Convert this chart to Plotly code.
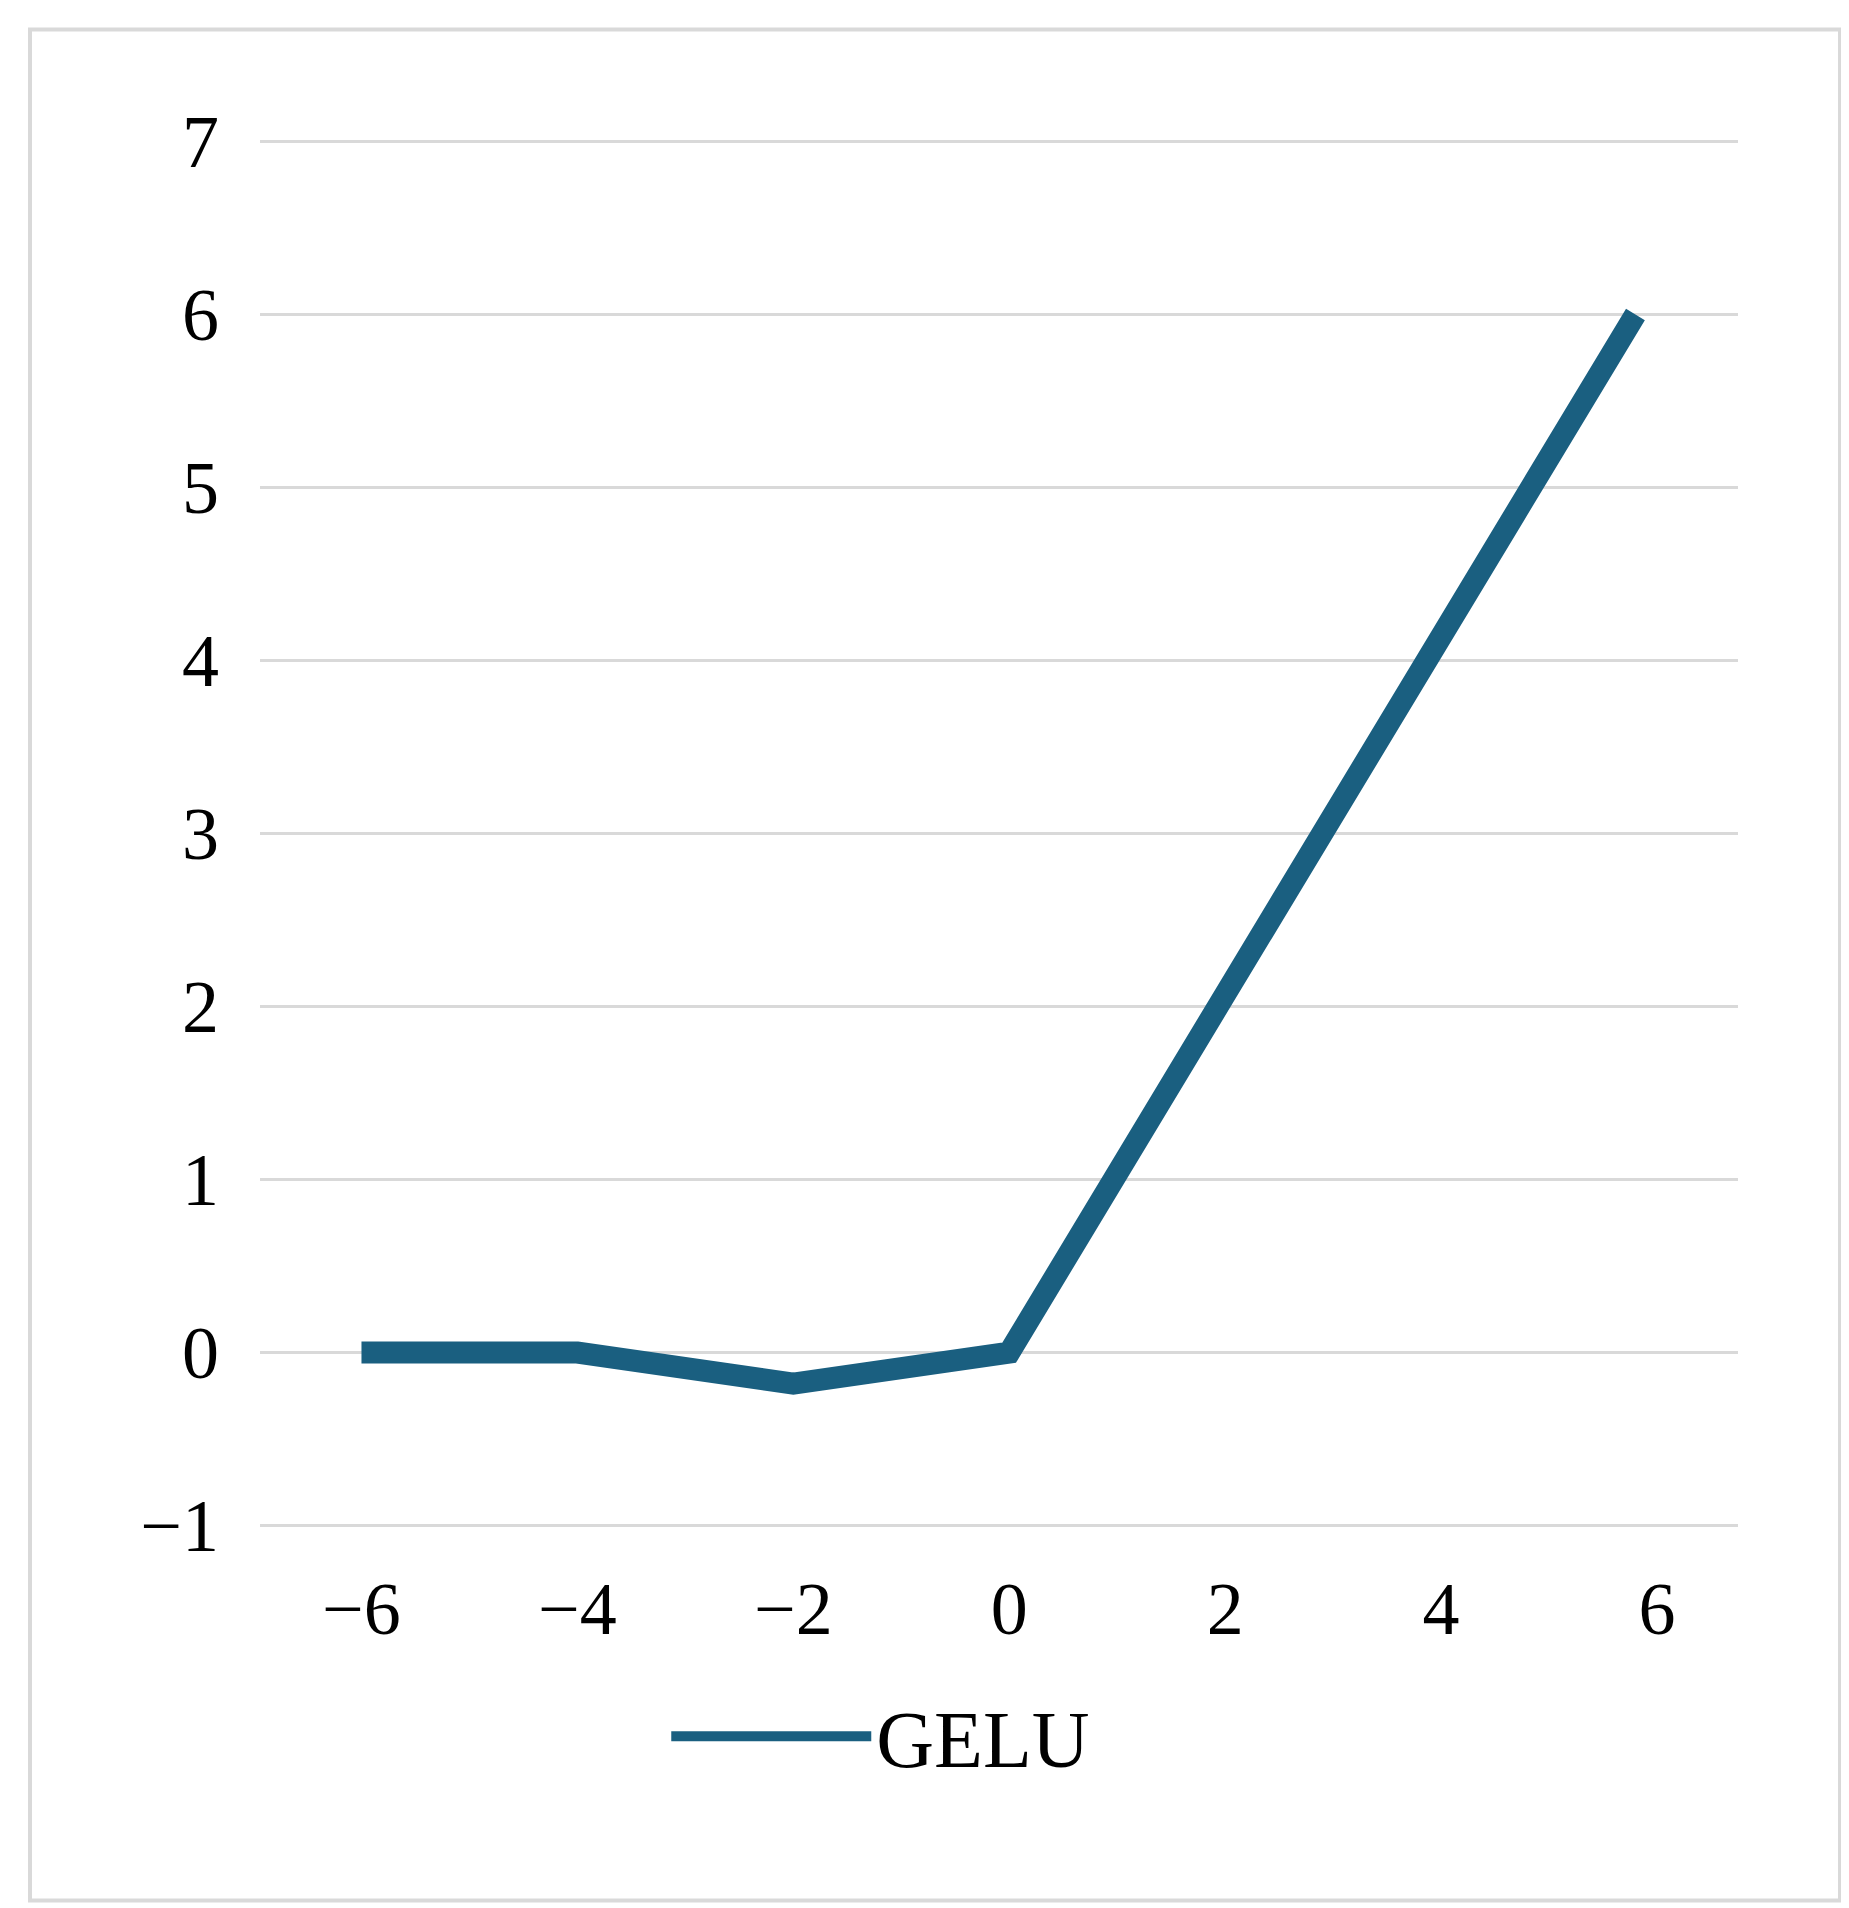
import plotly.graph_objects as go

x_vals = [-6, -4, -2, 0, 2, 4, 5.8]
y_vals = [0, 0, -0.18, 0, 2.07, 4.14, 6]
series_name = "GELU"
x_ticks = [-6, -4, -2, 0, 2, 4, 6]
y_ticks = [-1, 0, 1, 2, 3, 4, 5, 6, 7]

fig = go.Figure(go.Scatter(x=x_vals, y=y_vals, mode="lines", name=series_name,
                           line=dict(color="#1a5f80", width=22)))
font = dict(family="Liberation Serif", size=74, color="black")
fig.update_layout(
    width=1849, height=1908, paper_bgcolor="white", plot_bgcolor="white",
    margin=dict(l=252, r=119, t=130, b=387),
    font=font, showlegend=True,
    legend=dict(orientation="h", x=0.42, y=-0.149, xanchor="center", yanchor="middle",
                font=dict(size=80), itemwidth=200),
    xaxis=dict(range=[-6.94, 6.75], tickvals=x_ticks, ticktext=[str(t).replace("-", "−") for t in x_ticks],
               showgrid=False, zeroline=False, showline=False, ticks="", ticklabelstandoff=30),
    yaxis=dict(range=[-1.02, 7.02], tickvals=y_ticks, ticktext=[str(t).replace("-", "−") for t in y_ticks],
               showgrid=True, gridcolor="#d9d9d9", gridwidth=3, zeroline=False, showline=False,
               ticks="", ticklabelstandoff=40),
    shapes=[dict(type="rect", xref="paper", yref="paper", x0=-0.1556, x1=1.069, y0=-0.267, y1=1.078,
                 line=dict(color="#d9d9d9", width=4), fillcolor="rgba(0,0,0,0)")],
)
fig.write_html("out.html")
